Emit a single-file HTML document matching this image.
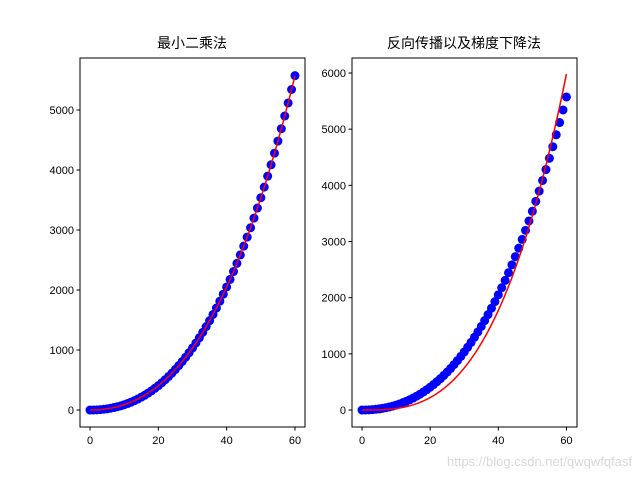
<!DOCTYPE html>
<html><head><meta charset="utf-8"><style>
body{margin:0;background:#fff;}
svg{display:block;font-family:"Liberation Sans","Noto Sans CJK SC",sans-serif;}
</style></head><body>
<svg id="fig" width="640" height="480" viewBox="0 0 640 480">
<rect width="640" height="480" fill="#fff"/>
<text x="192" y="48" font-size="14" text-anchor="middle">最小二乘法</text>
<text x="464" y="48" font-size="14" text-anchor="middle">反向传播以及梯度下降法</text>
<text x="632" y="466" font-size="13" fill="#d8d8d8" text-anchor="end">https://blog.csdn.net/qwqwfqfasf</text>
</svg>
<script>
const xs = [];
for (let i = 0; i <= 60; i++) xs.push(i);
const dataY = [0,1,3,7,13,20,30,41,55,70,88,108,131,156,183,214,246,282,321,362,406,454,505,559,616,677,741,809,880,955,1034,1117,1204,1295,1390,1489,1593,1700,1813,1930,2051,2177,2308,2444,2585,2731,2882,3038,3199,3366,3538,3715,3898,4087,4281,4482,4688,4900,5118,5342,5573];
const fitLeft = [0,1,3,7,13,20,30,41,55,70,88,108,131,156,183,214,246,282,321,362,406,454,505,559,616,677,741,809,880,955,1034,1117,1204,1295,1390,1489,1593,1700,1813,1930,2051,2177,2308,2444,2585,2731,2882,3038,3199,3366,3538,3715,3898,4087,4281,4482,4688,4900,5118,5342,5573];
const fitRight = [0,0,0,1,2,3,6,10,14,20,28,37,48,61,76,93,113,136,162,190,222,257,295,337,383,433,487,545,608,676,748,825,908,995,1089,1188,1292,1403,1520,1643,1773,1909,2052,2202,2360,2524,2696,2876,3063,3259,3463,3674,3895,4124,4362,4608,4864,5129,5403,5687,5983];
const xTicks = [0,20,40,60];
const yTicksLeft = [0,1000,2000,3000,4000,5000];
const yTicksRight = [0,1000,2000,3000,4000,5000,6000];

const NS = 'http://www.w3.org/2000/svg';
const svg = document.getElementById('fig');
function mk(tag, attrs, parent){const e=document.createElementNS(NS,tag);for(const k in attrs)e.setAttribute(k,attrs[k]);(parent||svg).appendChild(e);return e;}

function panel(px0, px1, py0, py1, xmin, xmax, ymin, ymax, yTicks, fit, prefix){
  const sx = v => px0 + (v - xmin) / (xmax - xmin) * (px1 - px0);
  const sy = v => py1 - (v - ymin) / (ymax - ymin) * (py1 - py0);
  const g = mk('g', {});
  
  
  xs.forEach((x, i) => {
    const c = mk('circle', {cx: sx(x), cy: sy(dataY[i]), r: 4.5, fill: '#0000ff'}, g);
    
    
  });
  const d = xs.map((x, i) => (i ? 'L' : 'M') + sx(x).toFixed(2) + ' ' + sy(fit[i]).toFixed(2)).join(' ');
  const p = mk('path', {d: d, fill: 'none', stroke: '#ff0000', 'stroke-width': 1.5}, g);
  
  
  const fr = mk('rect', {x: px0, y: py0, width: px1 - px0, height: py1 - py0, fill: 'none', stroke: '#000', 'stroke-width': 1}, g);
  
  
  xTicks.forEach(t => {
    const x = sx(t);
    mk('line', {x1: x, x2: x, y1: py1, y2: py1 + 3.5, stroke: '#000'}, g);
    const tx = mk('text', {x: x, y: py1 + 17, 'font-size': 11, 'text-anchor': 'middle'}, g);
    tx.textContent = t;
    
    
  });
  yTicks.forEach(t => {
    const y = sy(t);
    mk('line', {x1: px0 - 3.5, x2: px0, y1: y, y2: y, stroke: '#000'}, g);
    const tx = mk('text', {x: px0 - 6, y: y + 4, 'font-size': 11, 'text-anchor': 'end'}, g);
    tx.textContent = t;
    
    
  });
}
panel(80, 305, 58, 427, -2.93, 62.93, -283, 5867, yTicksLeft, fitLeft, 'left');
panel(352, 577, 58, 427, -2.94, 63.1, -302, 6267, yTicksRight, fitRight, 'right');
</script>
</body></html>
